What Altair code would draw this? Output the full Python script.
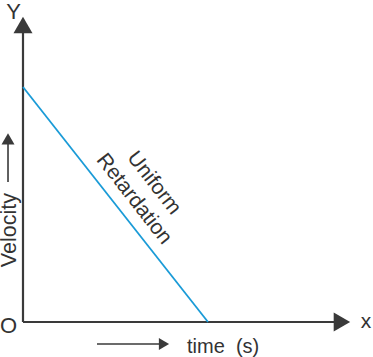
import altair as alt
import pandas as pd

# Main series: velocity falls uniformly to zero
time_s = [0, 10]
velocity = [10, 0]

# Scale domains (data units)
x_domain = [-1.243, 18.919]
y_domain = [-1.489, 13.702]

# Axis/arrow shafts
shaft_x1 = [0, 0, -0.81, 4.0]
shaft_y1 = [0, 0, 5.96, -0.936]
shaft_x2 = [0, 16.9, -0.81, 7.4]
shaft_y2 = [12.4, 0, 7.6, -0.936]
shaft_w = [2.2, 2.2, 1.6, 1.6]

# Arrow heads
head_x = [0, 17.24, -0.81, 7.62]
head_y = [12.64, 0, 7.79, -0.936]
head_shape = ["triangle-up", "triangle-right", "triangle-up", "triangle-right"]
head_size = [361, 361, 169, 140]

# Labels
label_text = ["Y", "O", "x", "Velocity", "time\u00a0\u00a0(s)", "Uniform", "Retardation"]
label_x = [-0.51, -0.78, 18.54, -0.70, 10.82, 7.08, 6.0]
label_y = [13.20, -0.19, 0.02, 3.91, -1.05, 5.91, 5.23]
label_angle = [0, 0, 0, 270, 0, 52, 52]
label_size = [22, 22, 21, 21.5, 20, 21, 21]

AX = "#3a3a3a"
BLUE = "#1a9bd7"
FONT = "Liberation Sans"

xs = alt.Scale(domain=x_domain, nice=False, zero=False)
ys = alt.Scale(domain=y_domain, nice=False, zero=False)


def X(f):
    return alt.X(f, type="quantitative", scale=xs, axis=None)


def Y(f):
    return alt.Y(f, type="quantitative", scale=ys, axis=None)


line = alt.Chart(pd.DataFrame({"t": time_s, "v": velocity})).mark_line(
    color=BLUE, strokeWidth=1.8
).encode(x=X("t"), y=Y("v"))

shafts = alt.Chart(pd.DataFrame({
    "x1": shaft_x1, "y1": shaft_y1, "x2": shaft_x2, "y2": shaft_y2, "w": shaft_w
})).mark_rule(color=AX).encode(
    x=X("x1"), y=Y("y1"),
    x2=alt.X2("x2"), y2=alt.Y2("y2"),
    strokeWidth=alt.StrokeWidth("w:Q", scale=None),
)

heads = alt.Chart(pd.DataFrame({
    "x": head_x, "y": head_y, "shape": head_shape, "size": head_size
})).mark_point(filled=True, color=AX, opacity=1, strokeWidth=0).encode(
    x=X("x"), y=Y("y"),
    shape=alt.Shape("shape:N", scale=None),
    size=alt.Size("size:Q", scale=None),
)

labels = alt.Chart(pd.DataFrame({
    "text": label_text, "x": label_x, "y": label_y,
    "angle": label_angle, "size": label_size
})).mark_text(
    font=FONT, color="#333333", align="center", baseline="middle"
).encode(
    x=X("x"), y=Y("y"),
    text="text:N",
    angle=alt.Angle("angle:Q", scale=None),
    size=alt.Size("size:Q", scale=None),
)

chart = alt.layer(shafts, line, heads, labels).properties(
    width=373, height=357,
    autosize=alt.AutoSizeParams(type="none"),
    padding=0,
    background="white",
).configure_view(stroke=None)

chart.save("out.html", embed_options={"renderer": "svg", "actions": False})
